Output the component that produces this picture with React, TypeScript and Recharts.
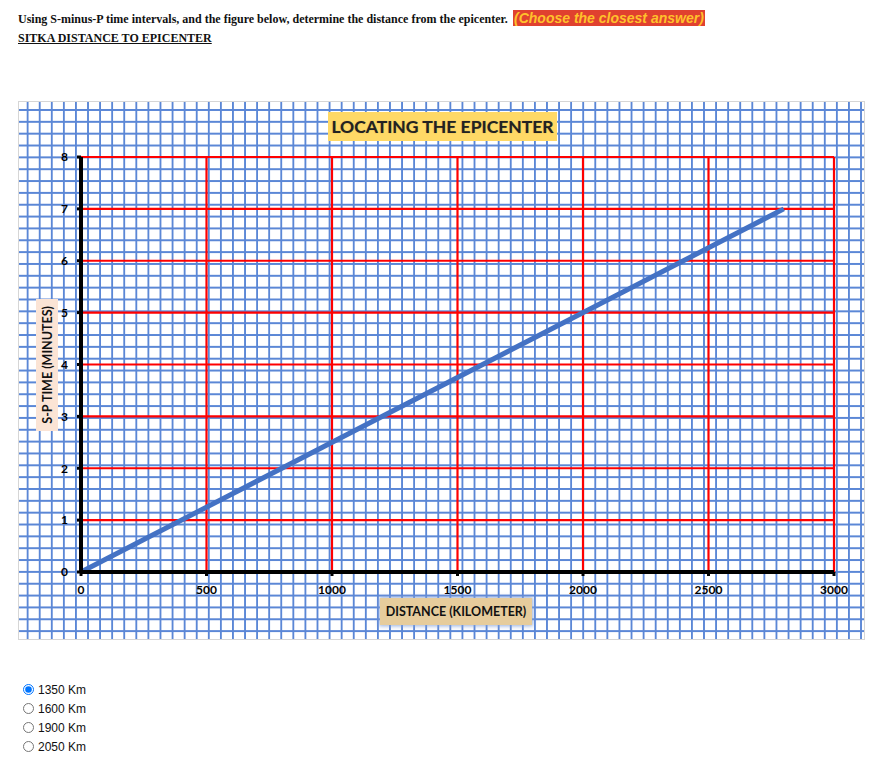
import React from 'react';
import { LineChart, Line, XAxis, YAxis, CartesianGrid } from 'recharts';

// travel-time curve
const distanceKm = [0, 2800];
const spMinutes = [0, 7];

const xTicks = [0, 500, 1000, 1500, 2000, 2500, 3000];
const yTicks = [0, 1, 2, 3, 4, 5, 6, 7, 8];

const answers = ['1350 Km', '1600 Km', '1900 Km', '2050 Km'];
const selected = '1350 Km';

const data = distanceKm.map((d, i) => ({ distance: d, minutes: spMinutes[i] }));

const LABEL_FONT = 'Lato, "Open Sans", sans-serif';

const tickStyle = {
  fill: '#000',
  fontSize: 12,
  fontWeight: 700,
  fontFamily: LABEL_FONT,
};

function Question() {
  return (
    <>
      <div
        style={{
          position: 'absolute',
          left: 18,
          top: 12,
          fontFamily: '"Liberation Serif", "Times New Roman", serif',
          fontSize: 12,
          fontWeight: 700,
          lineHeight: '14px',
          color: '#111',
          whiteSpace: 'nowrap',
        }}
      >
        Using S-minus-P time intervals, and the figure below, determine the distance from the epicenter.
      </div>
      <div
        style={{
          position: 'absolute',
          left: 513,
          top: 10,
          height: 16,
          padding: '0 1px',
          background: '#e0412f',
          color: '#ffc12b',
          fontFamily: '"Liberation Sans", Arial, sans-serif',
          fontStyle: 'italic',
          fontWeight: 700,
          fontSize: 14,
          lineHeight: '16px',
          whiteSpace: 'nowrap',
        }}
      >
        (Choose the closest answer)
      </div>
      <div
        style={{
          position: 'absolute',
          left: 18,
          top: 31,
          fontFamily: '"Liberation Serif", "Times New Roman", serif',
          fontSize: 12,
          fontWeight: 700,
          lineHeight: '14px',
          color: '#111',
          textDecoration: 'underline',
          whiteSpace: 'nowrap',
        }}
      >
        SITKA DISTANCE TO EPICENTER
      </div>
    </>
  );
}

function EpicenterChart() {
  return (
    <div
      style={{
        position: 'absolute',
        left: 19,
        top: 102,
        width: 845,
        height: 537,
        outline: '1px solid #d6d6d6',
        backgroundColor: '#fff',
        backgroundImage:
          'linear-gradient(to right, #5b87d6 2px, transparent 2px), linear-gradient(to bottom, #5b87d6 2px, transparent 2px)',
        backgroundSize: '12.08px 11.85px',
        backgroundPosition: '7.7px 7px',
      }}
    >
      <LineChart
        width={845}
        height={537}
        data={data}
        margin={{ top: 55, right: 30, bottom: 37, left: 42 }}
      >
        <CartesianGrid stroke="#ff0000" strokeWidth={2.2} />
        <XAxis
          dataKey="distance"
          type="number"
          domain={[0, 3000]}
          ticks={xTicks}
          interval={0}
          height={30}
          axisLine={{ stroke: '#000', strokeWidth: 4 }}
          tickLine={{ stroke: '#000', strokeWidth: 3 }}
          tickSize={4}
          tickMargin={9}
          tick={tickStyle}
        />
        <YAxis
          type="number"
          domain={[0, 8]}
          ticks={yTicks}
          interval={0}
          width={20}
          axisLine={{ stroke: '#000', strokeWidth: 4 }}
          tickLine={{ stroke: '#000', strokeWidth: 3 }}
          tickSize={4}
          tickMargin={9}
          tick={tickStyle}
        />
        <Line
          type="linear"
          dataKey="minutes"
          stroke="#4472c4"
          strokeWidth={5}
          dot={false}
          activeDot={false}
          isAnimationActive={false}
        />
      </LineChart>

      {/* chart title */}
      <div
        style={{
          position: 'absolute',
          left: 309,
          top: 10,
          width: 229,
          height: 29,
          background: '#ffd966',
          fontFamily: LABEL_FONT,
          fontWeight: 700,
          fontSize: 17.5,
          lineHeight: '29px',
          textAlign: 'center',
          color: '#222',
          textShadow: '0 0 1px rgba(0,0,0,0.35)',
        }}
      >
        LOCATING THE EPICENTER
      </div>

      {/* y axis title */}
      <div
        style={{
          position: 'absolute',
          left: 17,
          top: 197,
          width: 22,
          height: 132,
          background: '#fbe4d5',
          display: 'flex',
          alignItems: 'center',
          justifyContent: 'center',
        }}
      >
        <span
          style={{
            writingMode: 'vertical-rl',
            transform: 'rotate(180deg)',
            fontFamily: LABEL_FONT,
            fontWeight: 700,
            fontSize: 12.5,
            color: '#111',
            whiteSpace: 'nowrap',
          }}
        >
          S-P TIME (MINUTES)
        </span>
      </div>

      {/* x axis title */}
      <div
        style={{
          position: 'absolute',
          left: 361,
          top: 496,
          width: 152,
          height: 27,
          background: '#e6cc9c',
          boxShadow: '0 0 4px 1px rgba(130,160,215,0.85)',
          fontFamily: LABEL_FONT,
          fontWeight: 700,
          fontSize: 12.5,
          lineHeight: '27px',
          textAlign: 'center',
          color: '#111',
        }}
      >
        DISTANCE (KILOMETER)
      </div>
    </div>
  );
}

function Answers() {
  return (
    <div style={{ position: 'absolute', left: 17, top: 680 }}>
      {answers.map((a) => (
        <div
          key={a}
          style={{
            display: 'flex',
            alignItems: 'center',
            height: 19,
            fontFamily: '"Liberation Sans", Arial, sans-serif',
            fontSize: 12,
            color: '#111',
          }}
        >
          <input
            type="radio"
            name="answer"
            readOnly
            checked={a === selected}
            style={{ width: 11, height: 11, margin: '0 4px 0 6px' }}
          />
          {a}
        </div>
      ))}
    </div>
  );
}

export default function App() {
  return (
    <div
      style={{
        position: 'absolute',
        left: 0,
        top: 0,
        width: 892,
        height: 762,
        background: '#fff',
      }}
    >
      <Question />
      <EpicenterChart />
      <Answers />
    </div>
  );
}
